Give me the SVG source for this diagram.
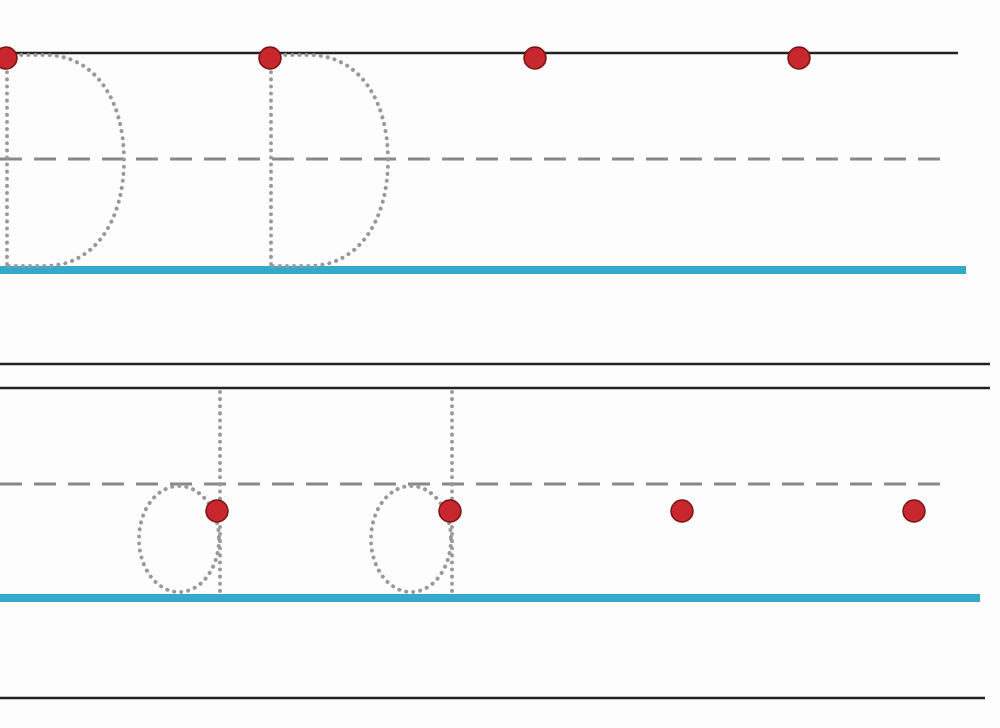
<svg xmlns="http://www.w3.org/2000/svg" width="1000" height="728" viewBox="0 0 1000 728">
<style>
.blk{stroke:#222;stroke-width:2.5}
.dash{stroke:#888;stroke-width:3;stroke-dasharray:22 12}
.blue{stroke:#35a9cc;stroke-width:8}
.dot{fill:none;stroke:#999;stroke-width:4;stroke-dasharray:0.1 7;stroke-linecap:round}
.red{fill:#c8282d;stroke:#7a1518;stroke-width:1.5}
</style>
<rect width="1000" height="728" fill="#fdfdfd"/>
<g id="guides">
<line class="blk" x1="0" y1="53" x2="958" y2="53"/>
<line class="dash" x1="0" y1="159" x2="940" y2="159"/>
<line class="blue" x1="0" y1="270" x2="966" y2="270"/>
<line class="blk" x1="0" y1="364" x2="990" y2="364"/>
<line class="blk" x1="0" y1="388" x2="990" y2="388"/>
<line class="dash" x1="0" y1="484" x2="945" y2="484"/>
<line class="blue" x1="0" y1="598" x2="980" y2="598"/>
<line class="blk" x1="0" y1="698" x2="985" y2="698"/>
</g>
<g id="letters">
<path class="dot" d="M7 58V266M7 55H45C95 55 124 100 124 160C124 220 95 266 45 266H7"/>
<path class="dot" d="M271 58V266M271 55H309C359 55 388 100 388 160C388 220 359 266 309 266H271"/>
<path class="dot" d="M220 392V592"/>
<ellipse class="dot" cx="179" cy="539" rx="40" ry="53"/>
<path class="dot" d="M452 392V592"/>
<ellipse class="dot" cx="411" cy="539" rx="40" ry="53"/>
</g>
<g id="dots">
<circle class="red" cx="6" cy="58" r="11"/>
<circle class="red" cx="270" cy="58" r="11"/>
<circle class="red" cx="535" cy="58" r="11"/>
<circle class="red" cx="799" cy="58" r="11"/>
<circle class="red" cx="217" cy="511" r="11"/>
<circle class="red" cx="450" cy="511" r="11"/>
<circle class="red" cx="682" cy="511" r="11"/>
<circle class="red" cx="914" cy="511" r="11"/>
</g>
</svg>
